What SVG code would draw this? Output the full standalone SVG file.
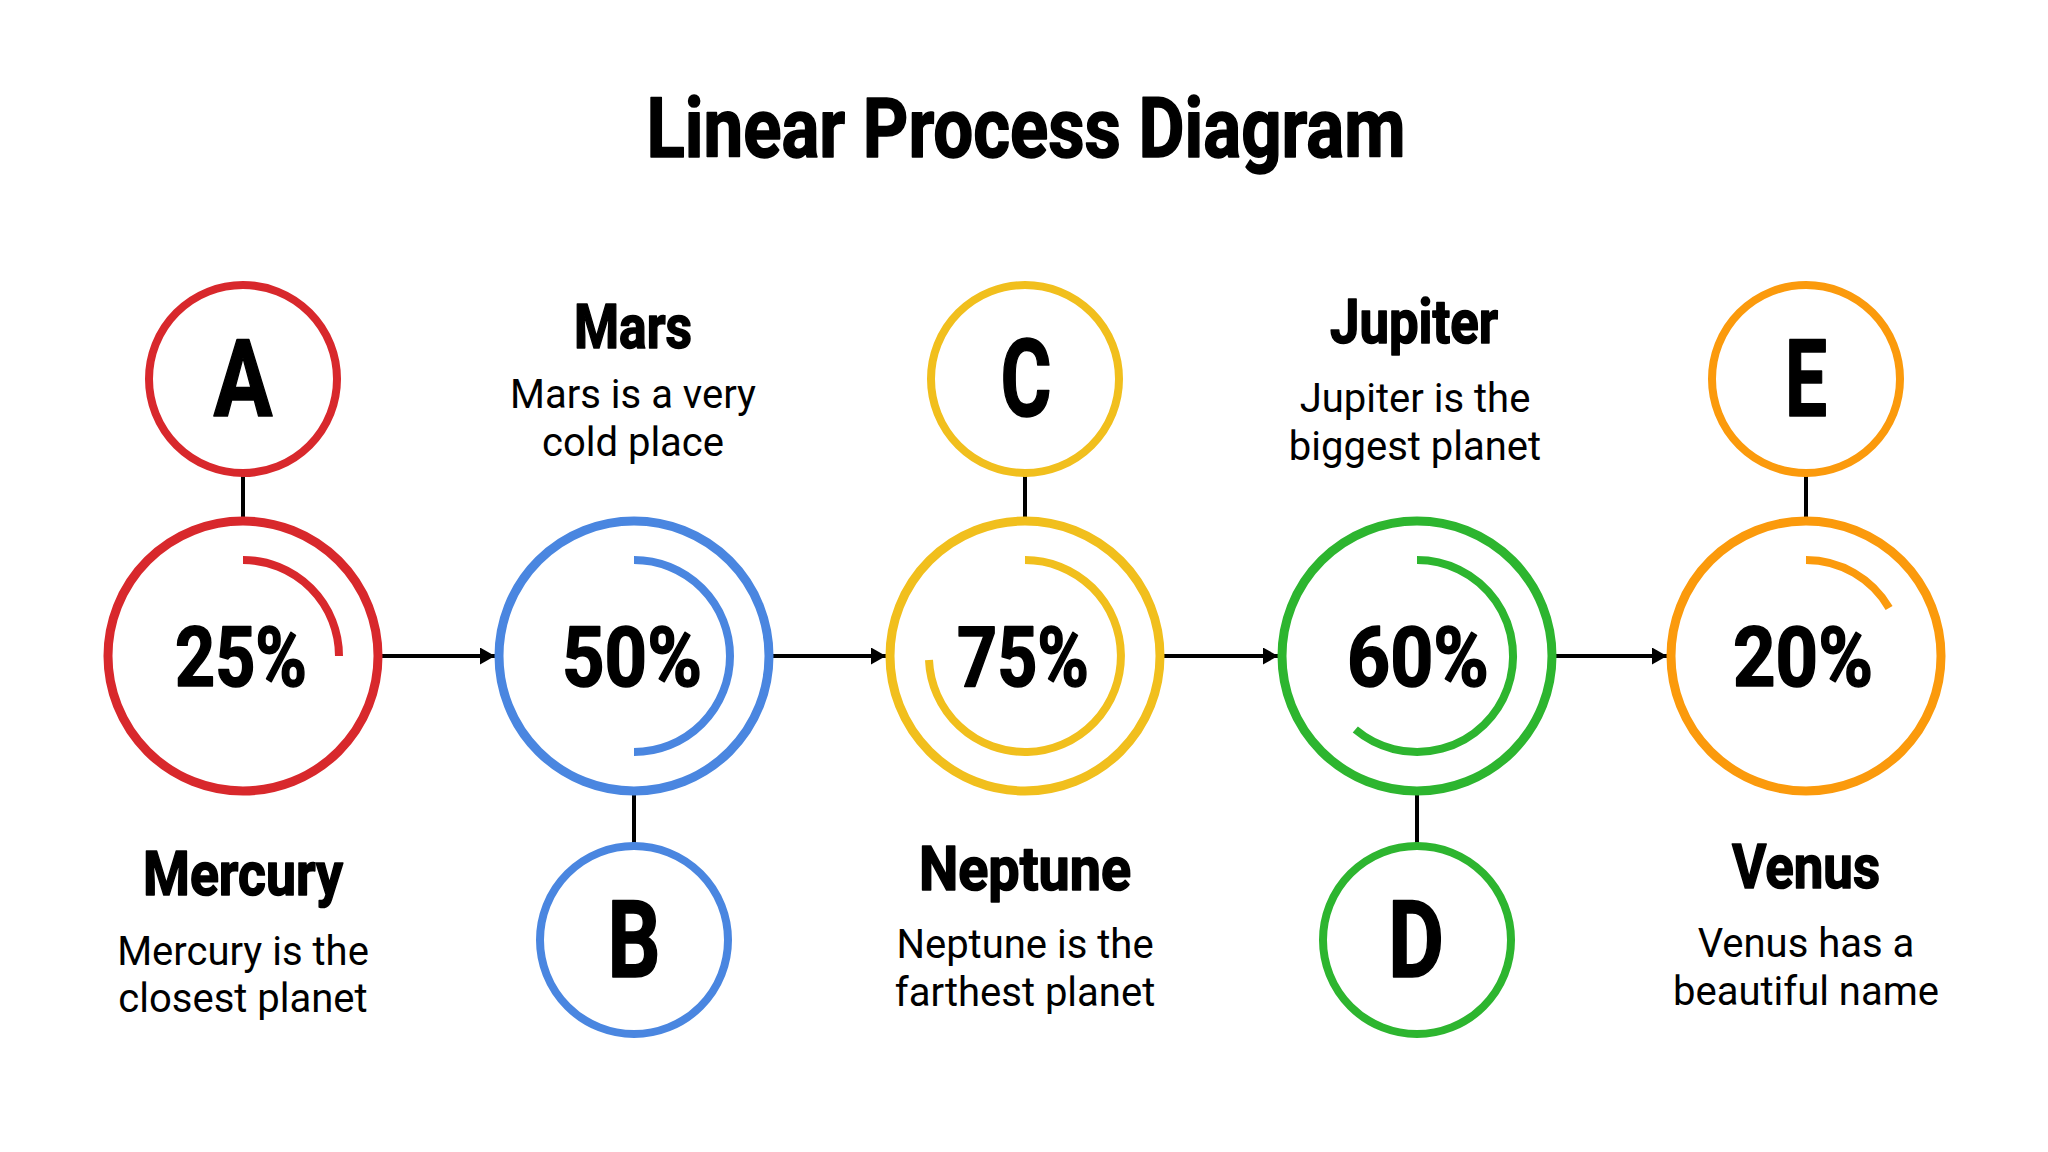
<svg xmlns="http://www.w3.org/2000/svg" width="2048" height="1152" viewBox="0 0 2048 1152">
  <defs>
    <marker id="arrow" viewBox="0 0 15 17" refX="15" refY="8.5" markerWidth="15" markerHeight="17" markerUnits="userSpaceOnUse" orient="auto">
      <path d="M0,0 L15,8.5 L0,17 Z" fill="#000"/>
    </marker>
    <style>
      .ring { fill: #fff; stroke-width: 9; }
      .small { fill: #fff; stroke-width: 8; }
      .arc { fill: none; stroke-width: 8; stroke-linecap: butt; }
      .red { stroke: #d8282c; }
      .blue { stroke: #4a86e0; }
      .yellow { stroke: #f1bf1d; }
      .green { stroke: #2db52f; }
      .orange { stroke: #fb9a0c; }
      .cond { font-family: Roboto, "Liberation Sans", sans-serif; font-weight: 700; fill: #000; stroke: #000; stroke-width: 1.6; stroke-linejoin: round; text-anchor: middle; }
      .title { font-size: 84px; }
      .letter { font-size: 107px; }
      .pct { font-size: 83px; }
      .head { font-size: 62px; }
      .desc { font-family: Roboto, "Liberation Sans", sans-serif; font-weight: 400; font-size: 40px; fill: #000; text-anchor: middle; }
      .link { stroke: #000; stroke-width: 4; fill: none; }
    </style>
  </defs>
  <rect width="2048" height="1152" fill="#ffffff"/>

  <text class="cond title" x="1026" y="157" textLength="759" lengthAdjust="spacingAndGlyphs">Linear Process Diagram</text>

  <g id="connectors">
    <line class="link" x1="243" y1="476" x2="243" y2="518"/>
    <line class="link" x1="634" y1="794" x2="634" y2="844"/>
    <line class="link" x1="1025" y1="476" x2="1025" y2="518"/>
    <line class="link" x1="1417" y1="794" x2="1417" y2="844"/>
    <line class="link" x1="1806" y1="476" x2="1806" y2="518"/>
    <line class="link" x1="382" y1="656" x2="495" y2="656" marker-end="url(#arrow)"/>
    <line class="link" x1="773" y1="656" x2="886" y2="656" marker-end="url(#arrow)"/>
    <line class="link" x1="1164" y1="656" x2="1278" y2="656" marker-end="url(#arrow)"/>
    <line class="link" x1="1556" y1="656" x2="1667" y2="656" marker-end="url(#arrow)"/>
  </g>

  <g id="node-a">
    <circle class="small red" cx="243" cy="379" r="94"/>
    <text class="cond letter" x="243" y="416" textLength="59" lengthAdjust="spacingAndGlyphs">A</text>
  </g>
  <g id="node-mercury">
    <circle class="ring red" cx="243" cy="656" r="135"/>
    <path class="arc red" d="M243,560 A96,96 0 0 1 339,656"/>
    <text class="cond pct" x="241" y="686" textLength="132" lengthAdjust="spacingAndGlyphs">25%</text>
    <text class="cond head" x="243" y="895" textLength="200" lengthAdjust="spacingAndGlyphs">Mercury</text>
    <text class="desc" x="243" y="965">Mercury is the</text>
    <text class="desc" x="243" y="1012">closest planet</text>
  </g>

  <g id="node-mars">
    <circle class="ring blue" cx="634" cy="656" r="135"/>
    <path class="arc blue" d="M634,560 A96,96 0 0 1 634,752"/>
    <text class="cond pct" x="632" y="686" textLength="140" lengthAdjust="spacingAndGlyphs">50%</text>
    <text class="cond head" x="633" y="348" textLength="118" lengthAdjust="spacingAndGlyphs">Mars</text>
    <text class="desc" x="633" y="408">Mars is a very</text>
    <text class="desc" x="633" y="456">cold place</text>
  </g>
  <g id="node-b">
    <circle class="small blue" cx="634" cy="940" r="94"/>
    <text class="cond letter" x="634" y="977" textLength="53" lengthAdjust="spacingAndGlyphs">B</text>
  </g>

  <g id="node-c">
    <circle class="small yellow" cx="1025" cy="379" r="94"/>
    <text class="cond letter" x="1026" y="416" textLength="51" lengthAdjust="spacingAndGlyphs">C</text>
  </g>
  <g id="node-neptune">
    <circle class="ring yellow" cx="1025" cy="656" r="135"/>
    <path class="arc yellow" d="M1025,560 A96,96 0 1 1 929,660"/>
    <text class="cond pct" x="1023" y="686" textLength="132" lengthAdjust="spacingAndGlyphs">75%</text>
    <text class="cond head" x="1025" y="890" textLength="212" lengthAdjust="spacingAndGlyphs">Neptune</text>
    <text class="desc" x="1025" y="958">Neptune is the</text>
    <text class="desc" x="1025" y="1006">farthest planet</text>
  </g>

  <g id="node-jupiter">
    <circle class="ring green" cx="1417" cy="656" r="135"/>
    <path class="arc green" d="M1417,560 A96,96 0 1 1 1355.3,729.5"/>
    <text class="cond pct" x="1418" y="686" textLength="142" lengthAdjust="spacingAndGlyphs">60%</text>
    <text class="cond head" x="1414" y="343" textLength="168" lengthAdjust="spacingAndGlyphs">Jupiter</text>
    <text class="desc" x="1415" y="412">Jupiter is the</text>
    <text class="desc" x="1415" y="460">biggest planet</text>
  </g>
  <g id="node-d">
    <circle class="small green" cx="1417" cy="940" r="94"/>
    <text class="cond letter" x="1416" y="977" textLength="56" lengthAdjust="spacingAndGlyphs">D</text>
  </g>

  <g id="node-e">
    <circle class="small orange" cx="1806" cy="379" r="94"/>
    <text class="cond letter" x="1806" y="416" textLength="42" lengthAdjust="spacingAndGlyphs">E</text>
  </g>
  <g id="node-venus">
    <circle class="ring orange" cx="1806" cy="656" r="135"/>
    <path class="arc orange" d="M1806,560 A96,96 0 0 1 1889.1,608"/>
    <text class="cond pct" x="1803" y="686" textLength="140" lengthAdjust="spacingAndGlyphs">20%</text>
    <text class="cond head" x="1806" y="888" textLength="148" lengthAdjust="spacingAndGlyphs">Venus</text>
    <text class="desc" x="1806" y="957">Venus has a</text>
    <text class="desc" x="1806" y="1005">beautiful name</text>
  </g>
</svg>
